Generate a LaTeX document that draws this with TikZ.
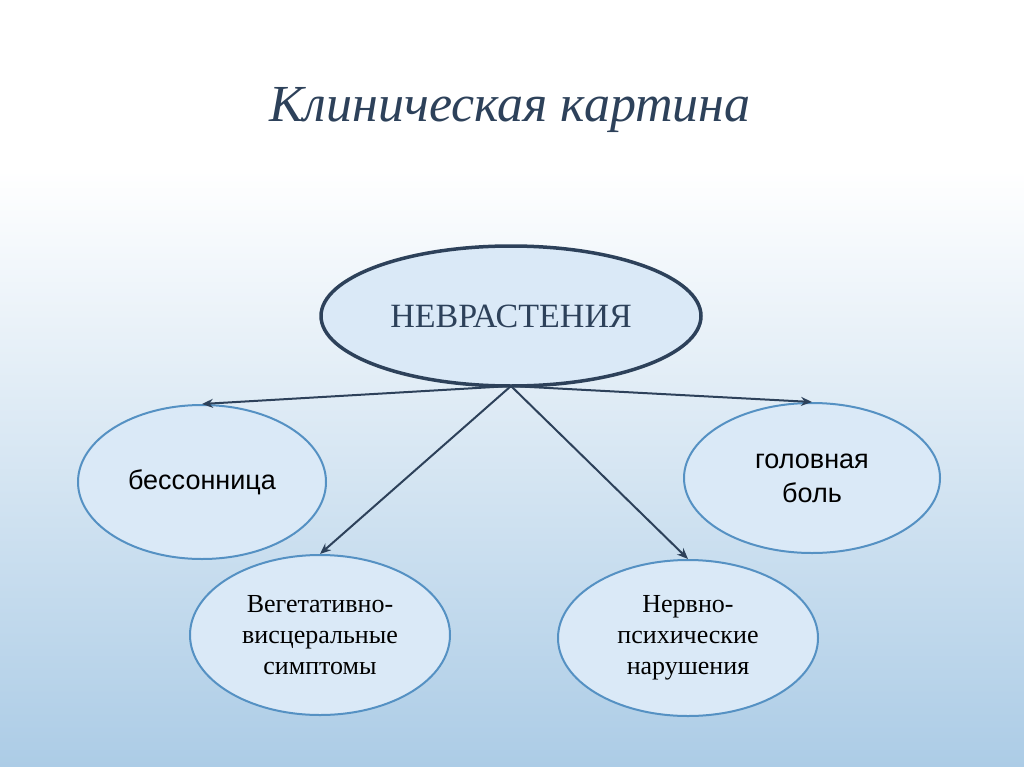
\documentclass[tikz,border=0pt]{standalone}
\usepackage{fontspec}
\setmainfont{Liberation Serif}
\newfontfamily\sansf{Liberation Sans}
\usetikzlibrary{arrows.meta,shapes.geometric}
\definecolor{dk}{RGB}{45,65,90}
\definecolor{bd}{RGB}{85,145,195}
\definecolor{fl}{RGB}{218,233,247}
\definecolor{bgb}{RGB}{172,204,230}
\tikzset{
 sm/.style={ellipse, draw=bd, line width=2pt, fill=fl, align=center, font=\fontsize{26}{31}\selectfont},
 arr/.style={draw=dk, line width=2pt, -{Stealth[length=11pt,width=9pt]}}
}
\begin{document}
\begin{tikzpicture}[x=1pt,y=-1pt]
\useasboundingbox (0,0) rectangle (1024,767);
\fill[white] (0,0) rectangle (1024,170);
\shade[top color=white, bottom color=bgb] (0,170) rectangle (1024,767);
\node[font=\itshape\fontsize{52}{58}\selectfont, text=dk] (t) at (510,110) {Клиническая картина};
\node[ellipse, draw=dk, line width=3.5pt, fill=fl, minimum width=380, minimum height=140, font=\fontsize{34}{38}\selectfont, text=dk] (m) at (511,316) {НЕВРАСТЕНИЯ};
\coordinate (o) at (511,386);
\node[sm, minimum width=248, minimum height=154, font=\sansf\fontsize{27}{34}\selectfont] (a) at (202,482) {бессонница};
\node[sm, minimum width=256, minimum height=150, font=\sansf\fontsize{27}{34}\selectfont] (b) at (812,478) {головная\\боль};
\node[sm, minimum width=260, minimum height=160] (c) at (320,635) {Вегетативно-\\висцеральные\\симптомы};
\node[sm, minimum width=260, minimum height=156] (d) at (688,638) {Нервно-\\психические\\нарушения};
\draw[arr] (o) -- (a.north);
\draw[arr] (o) -- (b.north);
\draw[arr] (o) -- (c.north);
\draw[arr] (o) -- (d.north);
\end{tikzpicture}
\end{document}
